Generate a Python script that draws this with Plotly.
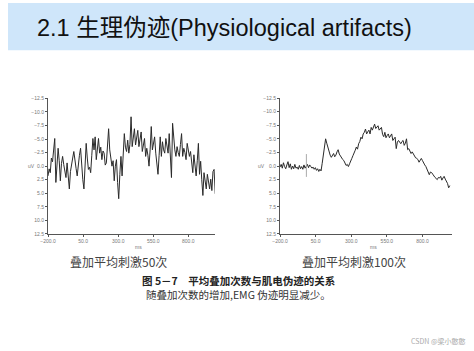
import plotly.graph_objects as go

W, H = 474, 351

# ---------- data ----------
t_step = 8
t_start = -200

emg50_uv = [1.8, 0.5, 1.2, -1.5, -0.8, -3.0, -5.1, 3.0, 0.5, -3.3, -1.0, 2.7, -0.5, -1.8, -0.3, 0.8,
            2.1, -0.6, 1.5, 4.2, 1.0, 0.0, -1.5, -2.7, -0.5, 0.4, 1.8, -0.8, -2.0, -3.3, 0.6, 2.5,
            4.2, -1.0, -4.2, -1.5, 0.6, 0.2, 1.2, -2.0, -5.1, -3.0, -5.4, -1.2, -3.0, -5.1, -2.4, -3.5,
            -1.2, -2.8, -2.4, -0.2, -0.6, -3.2, -6.9, -3.0, -1.8, 0.0, -1.0, 2.7, 0.0, -1.2,
            3.0, 6.0, 1.5, -1.8, 1.8, -2.0, -6.0, -3.5, -2.7, -4.8, -2.4, -4.0, -9.1, -3.6,
            -5.0, -6.9, -3.9, -5.5, -6.6, -3.6, -5.2, -6.3, -2.7, -4.2, -5.1, -1.8, -3.3, -2.0,
            0.0, -3.0, -7.3, -3.0, -4.5, -5.4, -2.4, -0.5, 1.5, -2.0, -5.4, -1.8, -4.5, -3.0,
            -2.4, -5.1, -3.5, -2.4, -6.0, -1.0, 2.1, -7.9, -4.5, -3.0, -1.8, -3.6, -2.5, -1.8,
            -4.0, -6.0, -1.8, -3.3, -2.5, -1.2, -4.2, -3.0, -1.8, -2.7, -0.5, 1.2, -2.1, 0.5,
            1.8, -1.0, -4.2, 1.5, -0.9, 2.5, 5.4, 1.2, 3.0, 4.2, 1.5, 3.5, 4.2, 2.4, 4.5, 1.0,
            0.6, 5.1]

emg100_uv = [0.2, -0.3, 0.4, -0.6, 0.1, 0.5, -0.2, -0.8, 0.3, -0.4, 0.6, 0.0, 0.5, -0.3, 0.4, 0.2,
             0.6, -0.1, 0.5, 0.1, 0.6, -0.2, 0.4, 0.0, -0.3, 0.3, -0.2, 0.1, 0.4, 0.2, 0.6, 0.3,
             0.8, 0.5, 1.0, 0.6, 0.9, -0.5, -2.2, -4.0, -5.0, -4.2, -3.3, -2.4, -2.0, -1.6, -1.9,
             -2.3, -1.7, -2.0, -2.6, -3.0, -2.2, -1.8, -1.5, -1.2, -1.0, -0.5, -0.1, -0.3, 0.1,
             -0.4, -0.8, -1.4, -1.9, -2.6, -2.9, -3.5, -3.1, -4.1, -4.5, -5.3, -5.0, -5.9, -6.2,
             -6.8, -5.9, -6.3, -6.6, -5.9, -7.1, -6.6, -7.0, -7.7, -6.9, -7.2, -7.4, -6.6, -6.8,
             -7.1, -5.8, -5.4, -6.2, -5.2, -5.6, -5.9, -5.2, -5.6, -5.9, -4.7, -5.0, -5.3, -3.2,
             -4.4, -4.7, -4.3, -4.1, -4.5, -4.7, -3.8, -4.2, -5.0, -3.0, -3.2, -2.8, -2.3, -2.6,
             -2.2, -2.0, -1.5, -1.4, -1.2, -0.7, -1.1, -1.4, -1.0, -0.4, -0.2, 0.1, 0.6, 1.0,
             1.6, 1.1, 1.2, 1.5, 1.9, 2.1, 2.3, 2.5, 2.1, 2.2, 1.9, 2.6, 2.2, 1.9, 2.4, 2.8,
             3.2, 4.0, 3.6]

t50_ms = [t_start + t_step * i for i in range(len(emg50_uv))]
t100_ms = [t_start + t_step * i for i in range(len(emg100_uv))]

y_ticks = [-12.5, -10.0, -7.5, -5.0, -2.5, 0.0, 2.5, 5.0, 7.5, 10.0, 12.5]
x_ticks = [-200.0, 50.0, 300.0, 550.0, 800.0]
marker_ms = -15
marker_uv = [-2.2, 2.0]

title_text = "2.1 生理伪迹(Physiological artifacts)"
cap_left = "叠加平均刺激50次"
cap_right = "叠加平均刺激100次"
fig_caption = "图 5－7　平均叠加次数与肌电伪迹的关系"
fig_note = "随叠加次数的增加,EMG 伪迹明显减少。"
watermark = "CSDN @梁小憨憨"

# ---------- figure ----------
def px(x):
    return x / W

def py(y):
    return 1 - y / H

line_color = "#2a2a2a"
fig = go.Figure()
fig.add_trace(go.Scatter(x=t50_ms, y=emg50_uv, mode="lines", xaxis="x", yaxis="y",
                         line=dict(color=line_color, width=1), showlegend=False))
fig.add_trace(go.Scatter(x=t100_ms, y=emg100_uv, mode="lines", xaxis="x2", yaxis="y2",
                         line=dict(color=line_color, width=1), showlegend=False))
fig.add_trace(go.Scatter(x=[marker_ms, marker_ms], y=marker_uv, mode="lines", xaxis="x2", yaxis="y2",
                         line=dict(color="#aaaaaa", width=1), showlegend=False))

tickfont = dict(family="Liberation Sans, Arial, sans-serif", size=5, color="#777")
axis_common = dict(showgrid=False, zeroline=False, showline=True, linecolor="#555", linewidth=1,
                   ticks="outside", ticklen=2, tickcolor="#555", tickfont=tickfont,
                   tickformat=".1f")

fig.update_layout(
    width=W, height=H, margin=dict(l=0, r=0, t=0, b=0),
    paper_bgcolor="white", plot_bgcolor="white",
    xaxis=dict(domain=[px(40.7), px(210.5)], range=[-200, 990], tickvals=x_ticks,
               anchor="y", **axis_common),
    yaxis=dict(domain=[py(235), py(97)], range=[12.5, -12.5], tickvals=y_ticks,
               anchor="x", **axis_common),
    xaxis2=dict(domain=[px(276.7), px(452)], range=[-200, 1010], tickvals=x_ticks,
                anchor="y2", **axis_common),
    yaxis2=dict(domain=[py(235), py(96.7)], range=[12.5, -12.5], tickvals=y_ticks,
                anchor="x2", **axis_common),
    shapes=[dict(type="rect", xref="paper", yref="paper", x0=0, x1=1, y0=py(48), y1=1,
                 fillcolor="#cfe6fa", line=dict(width=0), layer="below")],
)

sans = "Liberation Sans, Arial, Noto Sans CJK SC, sans-serif"
cjk = "Noto Sans CJK SC, sans-serif"
anns = [
    dict(x=px(27), y=py(25), text=title_text, xanchor="left", yanchor="middle",
         font=dict(family=sans, size=23.5, color="#111")),
    dict(x=px(24), y=py(166), text="uV", xanchor="center", yanchor="middle",
         font=dict(family=sans, size=5, color="#777")),
    dict(x=px(258), y=py(166), text="uV", xanchor="center", yanchor="middle",
         font=dict(family=sans, size=5, color="#777")),
    dict(x=px(133), y=py(248), text="ms", xanchor="center", yanchor="middle",
         font=dict(family=sans, size=5, color="#777")),
    dict(x=px(372), y=py(248), text="ms", xanchor="center", yanchor="middle",
         font=dict(family=sans, size=5, color="#777")),
    dict(x=px(112), y=py(263), text=cap_left, xanchor="center", yanchor="middle",
         font=dict(family=cjk, size=12, color="#444")),
    dict(x=px(352), y=py(263), text=cap_right, xanchor="center", yanchor="middle",
         font=dict(family=cjk, size=12, color="#444")),
    dict(x=px(234), y=py(282.5), text="<b>" + fig_caption + "</b>", xanchor="center", yanchor="middle",
         font=dict(family=cjk, size=10.5, color="#222")),
    dict(x=px(234), y=py(297), text=fig_note, xanchor="center", yanchor="middle",
         font=dict(family=cjk, size=10.5, color="#333")),
    dict(x=px(468), y=py(344), text=watermark, xanchor="right", yanchor="middle",
         font=dict(family=cjk, size=7, color="#aaa")),
]
for a in anns:
    a.update(xref="paper", yref="paper", showarrow=False)
fig.update_layout(annotations=anns)

fig.write_html("out.html")
